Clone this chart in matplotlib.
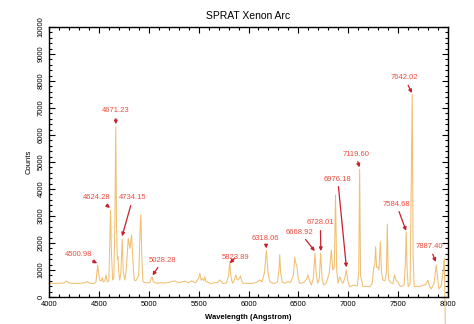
import numpy as np
import matplotlib
matplotlib.use("Agg")
from matplotlib import pyplot as plt
from matplotlib.ticker import MultipleLocator

plt.rcParams['font.family'] = ['Liberation Sans', 'DejaVu Sans']

# spectrum (wavelength in Angstrom, counts)
wave = [4000, 4050, 4100, 4150, 4175, 4200, 4260, 4300, 4350, 4380, 4410, 4450,
        4470, 4480, 4488, 4496, 4510, 4525, 4534, 4545, 4560, 4571, 4585, 4600,
        4608, 4617, 4626, 4638, 4650, 4661, 4669, 4677, 4685, 4691, 4700, 4708,
        4720, 4734, 4745, 4761, 4775, 4794, 4811, 4828, 4840, 4854, 4870, 4900,
        4912, 4921, 4930, 4941, 4960, 4990, 5011, 5025, 5034, 5045, 5080, 5120,
        5160, 5200, 5262, 5300, 5362, 5400, 5429, 5470, 5500, 5512, 5525, 5539,
        5552, 5562, 5575, 5585, 5612, 5650, 5690, 5712, 5745, 5780, 5800, 5812,
        5822, 5839, 5855, 5872, 5885, 5895, 5910, 5919, 5932, 5946, 5979, 6010,
        6046, 6080, 6112, 6135, 6160, 6179, 6195, 6213, 6240, 6262, 6290, 6305,
        6313, 6322, 6340, 6370, 6396, 6420, 6450, 6463, 6475, 6486, 6498, 6513,
        6540, 6563, 6580, 6596, 6612, 6630, 6650, 6666, 6680, 6693, 6710, 6723,
        6737, 6753, 6780, 6810, 6830, 6845, 6860, 6872, 6884, 6897, 6914, 6930,
        6947, 6965, 6981, 6995, 7014, 7040, 7064, 7090, 7105, 7114, 7123, 7147,
        7180, 7214, 7240, 7254, 7266, 7274, 7284, 7294, 7308, 7321, 7334, 7347,
        7367, 7382, 7391, 7400, 7407, 7430, 7447, 7464, 7480, 7497, 7515, 7531,
        7560, 7572, 7581, 7590, 7601, 7620, 7634, 7641, 7650, 7661, 7690, 7711,
        7748, 7775, 7798, 7815, 7831, 7860, 7873, 7882, 7893, 7908, 7930, 7950,
        7963, 7975]
counts = [520, 500, 510, 520, 590, 520, 500, 510, 520, 570, 510, 500,
          540, 900, 1190, 900, 620, 600, 720, 560, 600, 820, 560, 600,
          1800, 3220, 1600, 630, 700, 3000, 6300, 2600, 1400, 1500, 900, 630,
          900, 2140, 900, 630, 1000, 2170, 1800, 2300, 1400, 630, 600, 800,
          2400, 3060, 1500, 570, 540, 520, 530, 700, 750, 560, 510, 530,
          520, 540, 600, 520, 590, 530, 600, 520, 700, 880, 620, 690,
          600, 750, 560, 570, 500, 520, 540, 630, 500, 520, 800, 1310,
          800, 510, 600, 820, 650, 630, 700, 780, 600, 510, 510, 500,
          510, 540, 630, 560, 900, 1720, 900, 570, 520, 500, 560, 1000,
          1560, 900, 530, 520, 570, 530, 800, 1470, 1250, 1120, 700, 510,
          520, 570, 650, 820, 600, 440, 700, 1620, 800, 510, 700, 1620,
          700, 440, 520, 900, 1740, 1000, 1100, 3780, 1000, 510, 750, 600,
          510, 700, 1000, 600, 380, 420, 440, 400, 900, 4730, 800, 380,
          400, 380, 500, 1060, 1200, 1860, 1100, 1120, 1000, 2050, 900, 630,
          600, 900, 2700, 900, 630, 520, 500, 820, 600, 570, 420, 380,
          450, 1200, 2420, 1000, 380, 500, 5000, 7500, 1500, 380, 400, 380,
          440, 450, 620, 400, 300, 500, 900, 1190, 800, 300, 400, 900,
          1430, -1500]

# line identifications: label, arrow tip, text position
line_labels = ['4500.98', '4624.28', '4671.23', '4734.15', '5028.28', '5823.89',
               '6318.06', '6668.92', '6728.01', '6976.18', '7119.60', '7584.68',
               '7642.02', '7887.40']
tip_wave = [4483, 4612, 4669, 4732, 5038, 5812, 6179, 6664, 6725, 6981, 7112,
            7580, 7638, 7878]
tip_counts = [1250, 3300, 6400, 2250, 800, 1250, 1800, 1700, 1700, 1100, 4800,
              2450, 7550, 1300]
text_wave = [4300, 4481, 4671, 4841, 5141, 5872, 6170, 6513, 6720, 6894, 7074,
             7481, 7564, 7815]
text_counts = [1590, 3670, 6890, 3670, 1370, 1480, 2185, 2407, 2741, 4370, 5296,
               3444, 8122, 1863]

fig = plt.figure(figsize=(4.74, 3.24), dpi=100)
ax = fig.add_axes([0.1034, 0.0833, 0.8418, 0.8334])

ax.plot(wave, counts, color='#f0bf72', lw=0.75, clip_on=False, zorder=2)

for lab, tx, ty, px, py in zip(line_labels, text_wave, text_counts, tip_wave, tip_counts):
    ax.annotate(lab, xy=(px, py), xytext=(tx, ty),
                ha='center', va='center', fontsize=5.5, color='#ee4a3c',
                arrowprops=dict(arrowstyle='-|>', color='#c8202c', lw=0.9,
                                mutation_scale=5, shrinkA=1, shrinkB=0))

ax.set_xlim(4000, 8000)
ax.set_ylim(0, 10000)
ax.xaxis.set_major_locator(MultipleLocator(500))
ax.xaxis.set_minor_locator(MultipleLocator(100))
ax.yaxis.set_major_locator(MultipleLocator(1000))
ax.yaxis.set_minor_locator(MultipleLocator(200))
ax.tick_params(which='both', direction='in', top=True, right=True,
               labelsize=5.5, width=0.8, pad=3)
ax.tick_params(which='major', length=4)
ax.tick_params(which='minor', length=2)
for lbl in ax.get_yticklabels():
    lbl.set_rotation(90)
    lbl.set_va('center')
for s in ax.spines.values():
    s.set_linewidth(1.0)

ax.set_title('SPRAT Xenon Arc', fontsize=7.5, pad=6)
ax.set_xlabel('Wavelength (Angstrom)', fontsize=5.5, fontweight='bold', labelpad=4)
ax.set_ylabel('Counts', fontsize=5.5, labelpad=4)

fig.savefig('out.png', dpi=100)
